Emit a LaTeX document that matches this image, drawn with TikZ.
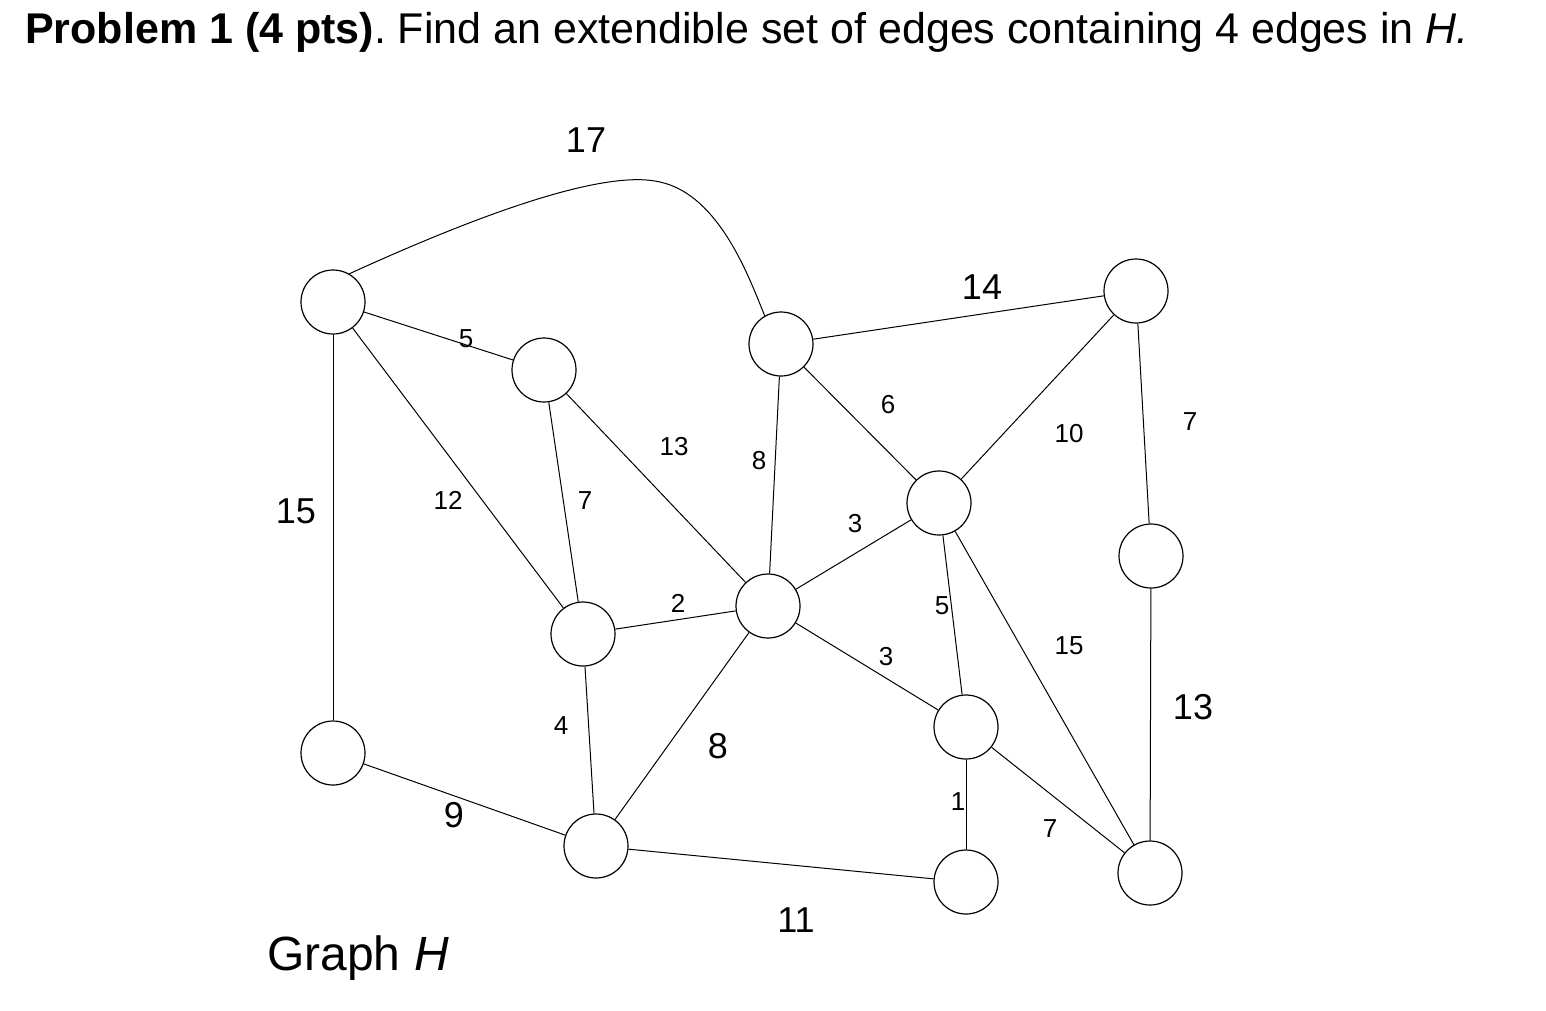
\documentclass[tikz,border=0pt]{standalone}
\usepackage{fontspec}
\setmainfont{Liberation Sans}
\begin{document}
\begin{tikzpicture}[x=1pt,y=-1pt,
  v/.style={circle,draw,line width=1.2pt,minimum size=64pt,inner sep=0pt},
  e/.style={line width=1pt},
  sl/.style={font=\fontsize{26}{26}\selectfont},
  bl/.style={font=\fontsize{36}{36}\selectfont}]
\useasboundingbox (0,0) rectangle (1546,1010);
\node[anchor=west,font=\fontsize{43}{43}\selectfont,inner sep=0pt] (title) at (25,32) {\textbf{Problem 1 (4 pts)}.\ Find an extendible set of edges containing 4 edges in \textit{H.}};
\node[v] (A) at (333,302) {};
\node[v] (B) at (544,370) {};
\node[v] (C) at (781,344) {};
\node[v] (D) at (1136,291) {};
\node[v] (E) at (939,503) {};
\node[v] (F) at (1151,556) {};
\node[v] (G) at (583,634) {};
\node[v] (M) at (768,606) {};
\node[v] (P) at (333,753) {};
\node[v] (Q) at (596,846) {};
\node[v] (R) at (966,727) {};
\node[v] (S) at (966,882) {};
\node[v] (T) at (1150,873) {};
\draw[e] (A.60) .. controls (500,205) and (610,170) .. (660,182) .. controls (720,195) and (750,280) .. (C.120);
\foreach \a/\b in {A/B,A/G,A/P,B/G,B/M,C/M,C/D,C/E,D/E,D/F,E/M,M/G,M/R,E/R,E/T,F/T,R/S,R/T,G/Q,M/Q,P/Q,Q/S}
  \draw[e] (\a) -- (\b);
\node[bl] (l17) at (586,140) {17};
\node[bl] (l14) at (982,287) {14};
\node[bl] (l15a) at (296,511) {15};
\node[bl] (l13a) at (1193,707) {13};
\node[bl] (l8b) at (718,746) {8};
\node[bl] (l9) at (454,815) {9};
\node[bl] (l11) at (796,920) {11};
\node[sl] (l5) at (466,339) {5};
\node[sl] (l12) at (448,500) {12};
\node[sl] (l7a) at (585,501) {7};
\node[sl] (l13) at (674,447) {13};
\node[sl] (l8) at (759,461) {8};
\node[sl] (l6) at (888,405) {6};
\node[sl] (l10) at (1069,434) {10};
\node[sl] (l7b) at (1190,422) {7};
\node[sl] (l3a) at (855,524) {3};
\node[sl] (l2) at (678,603) {2};
\node[sl] (l3b) at (886,657) {3};
\node[sl] (l5b) at (942,606) {5};
\node[sl] (l15b) at (1069,646) {15};
\node[sl] (l4) at (561,726) {4};
\node[sl] (l1) at (958,802) {1};
\node[sl] (l7c) at (1050,829) {7};
\node[font=\fontsize{48}{48}\selectfont] (gh) at (358,958) {Graph \textit{H}};
\end{tikzpicture}
\end{document}
